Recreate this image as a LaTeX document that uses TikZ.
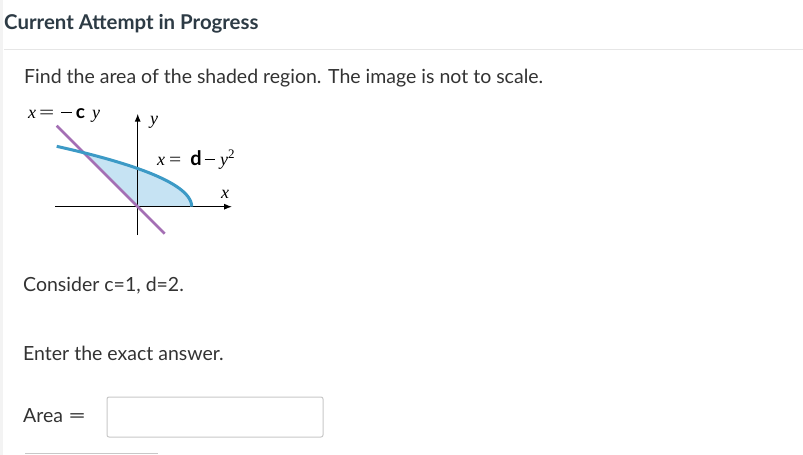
\documentclass[tikz,border=0pt]{standalone}
\usepackage{fontspec}
\usepackage{graphicx}
\setmainfont{Lato}
\newfontfamily\lblfont{Liberation Serif}[ItalicFont={Liberation Serif Italic}]
\newfontfamily\latoB{Lato}
\usetikzlibrary{arrows.meta}
\definecolor{hdr}{HTML}{2D3B45}
\definecolor{body}{HTML}{333333}
\definecolor{rule}{HTML}{E6E6E6}
\definecolor{strip}{HTML}{F3F3F3}
\definecolor{boxc}{HTML}{C8C8C8}
\definecolor{curveblue}{HTML}{3C9AC6}
\definecolor{regionblue}{HTML}{C6E3F3}
\definecolor{lilac}{HTML}{A46FB4}
\newcommand{\wideeq}[1]{\scalebox{#1}[1]{=}}
\newcommand{\minusbar}{\rule[5.2pt]{10.5pt}{1.1pt}}
\tikzset{
  txt/.style={anchor=base west, inner sep=0pt, text=body, font=\fontsize{19.5}{23}\selectfont},
  lbl/.style={anchor=base west, inner sep=0pt, text=black},
  axis/.style={line width=1.3pt, -{Latex[length=8pt,width=6pt]}},
}
\begin{document}
\begin{tikzpicture}[x=1pt,y=-1pt]
\useasboundingbox (0,0) rectangle (803,455);
\fill[white] (0,0) rectangle (803,455);
\fill[strip] (0,0) rectangle (3,455);
\node[anchor=base west, inner sep=0pt, text=hdr, font=\bfseries\fontsize{20.4}{24}\selectfont] (head) at (4,29) {Current Attempt in Progress};
\draw[rule, line width=1pt] (4,49) -- (803,49);
\node[txt] (q) at (24,83) {Find the area of the shaded region. The image is not to scale.};
% graph
\begin{scope}[shift={(137.7,206.7)}, x=27pt, y=27pt]
  \fill[regionblue] (0,0) -- (-2,2) -- plot[domain=2:0, samples=40] ({2-\x*\x},\x) -- cycle;
  \coordinate (xl) at (-3.05,0);
  \coordinate (xr) at (3.5,0);
  \coordinate (yb) at (0,-1.05);
  \coordinate (yt) at (0,3.45);
  \draw[axis] (xl) -- (xr);
  \draw[axis] (yb) -- (yt);
  \coordinate (la) at (-3,3);
  \coordinate (lb) at (1,-1);
  \draw[lilac, line width=2.6pt] (la) -- (lb);
  \draw[curveblue, line width=3pt] plot[domain=2.236:0, samples=50] ({2-\x*\x},\x);
\end{scope}
\node[lbl] (l1) at (28,118) {\lblfont\fontsize{18}{20}\selectfont\itshape x\upshape\hspace{3pt}\wideeq{1.5}\hspace{7pt}\minusbar\hspace{4pt}{\latoB\bfseries\fontsize{19}{19}\selectfont c}\hspace{7pt}\itshape y};
\node[lbl] (l2) at (150,124) {\lblfont\fontsize{18}{20}\selectfont\itshape y};
\node[lbl] (l3) at (157,165) {\lblfont\fontsize{18}{20}\selectfont\itshape x\upshape\hspace{4pt}\wideeq{1.2}\hspace{9pt}{\latoB\bfseries\fontsize{20}{20}\selectfont d}\hspace{3pt}\minusbar\hspace{5pt}\itshape y\upshape\raisebox{7pt}{\fontsize{13}{13}\selectfont 2}};
\node[lbl] (l4) at (221,198) {\lblfont\fontsize{18}{20}\selectfont\itshape x};
\node[txt] (c) at (23,291) {Consider c=1, d=2.};
\node[txt] (e) at (23,360) {Enter the exact answer.};
\node[txt] (a) at (23,422) {Area \wideeq{1.6}};
\draw[boxc, line width=1pt, rounded corners=2pt] (107,397) rectangle (323,437);
\coordinate (bl) at (25,453);
\coordinate (br) at (158,453);
\draw[boxc, line width=1pt] (bl) -- (br);
\end{tikzpicture}
\end{document}
